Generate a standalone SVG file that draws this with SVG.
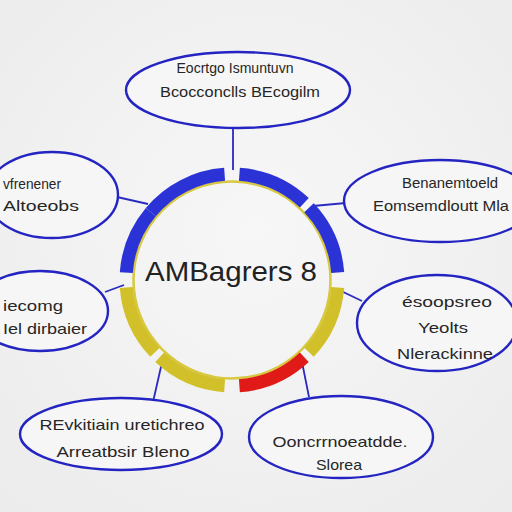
<svg xmlns="http://www.w3.org/2000/svg" width="512" height="512" viewBox="0 0 512 512">
<defs>
<radialGradient id="bg" cx="50%" cy="45%" r="70%">
<stop offset="0" stop-color="#f7f7f7"/>
<stop offset="1" stop-color="#ececec"/>
</radialGradient>
<style>
.node ellipse{fill:#f6f6f6;stroke:#2424c2;stroke-width:2.4}
.node text{font-family:"Liberation Sans",Arial,sans-serif;font-size:15px;fill:#262626;text-anchor:middle}
.conn line{stroke:#2a2ac0;stroke-width:1.8}
.seg{fill:none;stroke-width:13;stroke-linecap:butt}
.blue{stroke:#2b33d6}
.yel{stroke:#d2c02a}
.red{stroke:#e01a16}
</style>
</defs>
<rect width="512" height="512" fill="url(#bg)"/>
<g id="connectors" class="conn">
<line x1="233" y1="128" x2="233" y2="170"/>
<line x1="117" y1="197" x2="148" y2="204"/>
<line x1="313" y1="206" x2="346" y2="203"/>
<line x1="105" y1="292" x2="124" y2="285"/>
<line x1="339" y1="290" x2="362" y2="301"/>
<line x1="163" y1="358" x2="153" y2="402"/>
<line x1="302" y1="362" x2="309" y2="397"/>
</g>
<g id="ring">
<circle cx="232" cy="280" r="98.5" fill="none" stroke="#d8c840" stroke-width="2.5"/>
<path class="seg blue" d="M 150.8 212.1 A 106 106 0 0 1 224.6 174.3"/>
<path class="seg blue" d="M 239.4 174.3 A 106 106 0 0 1 304.3 202.7"/>
<path class="seg blue" d="M 309.0 207.7 A 106 106 0 0 1 337.7 272.6"/>
<path class="seg yel" d="M 337.7 287.4 A 106 106 0 0 1 309.0 352.3"/>
<path class="seg red" d="M 304.3 357.3 A 106 106 0 0 1 239.4 385.7"/>
<path class="seg yel" d="M 224.6 385.7 A 106 106 0 0 1 159.7 357.3"/>
<path class="seg yel" d="M 155.0 352.3 A 106 106 0 0 1 126.3 287.4"/>
<path class="seg blue" d="M 126.3 272.6 A 106 106 0 0 1 150.8 212.1"/>
<text x="231" y="281" text-anchor="middle" font-family="Liberation Sans, Arial, sans-serif" font-size="28" fill="#222" textLength="172" lengthAdjust="spacingAndGlyphs">AMBagrers 8</text>
</g>
<g id="node-top" class="node">
<ellipse cx="238" cy="90" rx="112" ry="38"/>
<text x="235" y="73" textLength="117" lengthAdjust="spacingAndGlyphs">Eocrtgo Ismuntuvn</text>
<text x="240" y="97" textLength="160" lengthAdjust="spacingAndGlyphs">Bcocconclls  BEcogilm</text>
</g>
<g id="node-upper-left" class="node">
<ellipse cx="52" cy="195" rx="66" ry="43"/>
<text x="32" y="189" textLength="58" lengthAdjust="spacingAndGlyphs">vfrenener</text>
<text x="41" y="211" textLength="76" lengthAdjust="spacingAndGlyphs">Altoeobs</text>
</g>
<g id="node-upper-right" class="node">
<ellipse cx="440" cy="201" rx="96" ry="41"/>
<text x="450" y="188" textLength="96" lengthAdjust="spacingAndGlyphs">Benanemtoeld</text>
<text x="441" y="211" textLength="136" lengthAdjust="spacingAndGlyphs">Eomsemdloutt  Mla</text>
</g>
<g id="node-left" class="node">
<ellipse cx="40" cy="311" rx="68" ry="40"/>
<text x="33" y="311" textLength="60" lengthAdjust="spacingAndGlyphs">iecomg</text>
<text x="45" y="334" textLength="84" lengthAdjust="spacingAndGlyphs">Iel dirbaier</text>
</g>
<g id="node-right" class="node">
<ellipse cx="437" cy="323" rx="80" ry="48"/>
<text x="447" y="307" textLength="90" lengthAdjust="spacingAndGlyphs">ésoopsreo</text>
<text x="443" y="333" textLength="50" lengthAdjust="spacingAndGlyphs">Yeolts</text>
<text x="445" y="359" textLength="96" lengthAdjust="spacingAndGlyphs">Nlerackinne</text>
</g>
<g id="node-bottom-left" class="node">
<ellipse cx="121" cy="434" rx="101" ry="36"/>
<text x="122" y="430" textLength="165" lengthAdjust="spacingAndGlyphs">REvkitiain uretichreo</text>
<text x="123" y="457" textLength="133" lengthAdjust="spacingAndGlyphs">Arreatbsir Bleno</text>
</g>
<g id="node-bottom-right" class="node">
<ellipse cx="341" cy="437" rx="92" ry="41"/>
<text x="340" y="447" textLength="135" lengthAdjust="spacingAndGlyphs">Ooncrrnoeatdde.</text>
<text x="339" y="470" textLength="46" lengthAdjust="spacingAndGlyphs">Slorea</text>
</g>
</svg>
